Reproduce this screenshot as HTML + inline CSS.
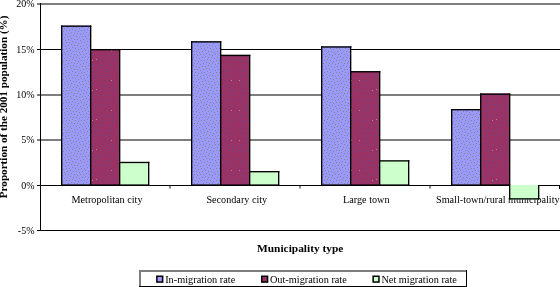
<!DOCTYPE html>
<html><head><meta charset="utf-8"><style>
html,body{margin:0;padding:0;background:#fff;}
svg{display:block;}
.t{font-family:"Liberation Serif",serif;fill:#000;}
.b{font-family:"Liberation Serif",serif;font-weight:bold;fill:#000;}
</style></head><body>
<svg width="560" height="287" viewBox="0 0 560 287">
<defs>
<pattern id="pin" x="0" y="0" width="30" height="30" patternUnits="userSpaceOnUse"><rect width="30" height="30" fill="#9999FF"/><path fill="#858590" d="M0 0h1v1h-1zM0 12h1v1h-1zM0 18h1v1h-1zM1 6h1v1h-1zM1 21h1v1h-1zM1 27h1v1h-1zM2 3h1v1h-1zM2 9h1v1h-1zM2 15h1v1h-1zM2 25h1v1h-1zM3 1h1v1h-1zM3 13h1v1h-1zM3 19h1v1h-1zM4 7h1v1h-1zM4 22h1v1h-1zM4 28h1v1h-1zM5 4h1v1h-1zM5 10h1v1h-1zM5 16h1v1h-1zM5 24h1v1h-1zM6 0h1v1h-1zM6 12h1v1h-1zM6 18h1v1h-1zM7 6h1v1h-1zM7 21h1v1h-1zM7 27h1v1h-1zM8 3h1v1h-1zM8 9h1v1h-1zM8 15h1v1h-1zM8 24h1v1h-1zM9 0h1v1h-1zM9 12h1v1h-1zM9 18h1v1h-1zM10 6h1v1h-1zM10 20h1v1h-1zM10 26h1v1h-1zM11 2h1v1h-1zM11 8h1v1h-1zM11 14h1v1h-1zM11 23h1v1h-1zM12 11h1v1h-1zM12 17h1v1h-1zM12 29h1v1h-1zM13 5h1v1h-1zM13 21h1v1h-1zM13 27h1v1h-1zM14 3h1v1h-1zM14 9h1v1h-1zM14 15h1v1h-1zM14 24h1v1h-1zM15 0h1v1h-1zM15 12h1v1h-1zM15 18h1v1h-1zM16 6h1v1h-1zM16 21h1v1h-1zM16 27h1v1h-1zM17 3h1v1h-1zM17 9h1v1h-1zM17 15h1v1h-1zM17 25h1v1h-1zM18 1h1v1h-1zM18 13h1v1h-1zM18 19h1v1h-1zM19 7h1v1h-1zM19 22h1v1h-1zM19 28h1v1h-1zM20 4h1v1h-1zM20 10h1v1h-1zM20 16h1v1h-1zM20 24h1v1h-1zM21 0h1v1h-1zM21 12h1v1h-1zM21 18h1v1h-1zM22 6h1v1h-1zM22 21h1v1h-1zM22 27h1v1h-1zM23 3h1v1h-1zM23 9h1v1h-1zM23 15h1v1h-1zM23 24h1v1h-1zM24 0h1v1h-1zM24 12h1v1h-1zM24 18h1v1h-1zM25 6h1v1h-1zM25 20h1v1h-1zM25 26h1v1h-1zM26 2h1v1h-1zM26 8h1v1h-1zM26 14h1v1h-1zM26 23h1v1h-1zM27 11h1v1h-1zM27 17h1v1h-1zM27 29h1v1h-1zM28 5h1v1h-1zM28 21h1v1h-1zM28 27h1v1h-1zM29 3h1v1h-1zM29 9h1v1h-1zM29 15h1v1h-1zM29 24h1v1h-1z"/></pattern>
<pattern id="pout" x="0" y="0" width="40" height="30" patternUnits="userSpaceOnUse"><rect width="40" height="30" fill="#993366"/><path fill="#5454a0" d="M0 0h1v1h-1zM1 10h1v1h-1zM1 25h1v1h-1zM2 15h1v1h-1zM3 5h1v1h-1zM3 21h1v1h-1zM4 1h1v1h-1zM5 11h1v1h-1zM5 26h1v1h-1zM6 16h1v1h-1zM7 20h1v1h-1zM8 0h1v1h-1zM9 10h1v1h-1zM9 25h1v1h-1zM10 15h1v1h-1zM11 5h1v1h-1zM13 10h1v1h-1zM13 24h1v1h-1zM14 14h1v1h-1zM15 4h1v1h-1zM15 19h1v1h-1zM17 9h1v1h-1zM18 15h1v1h-1zM19 5h1v1h-1zM20 0h1v1h-1zM21 25h1v1h-1zM22 15h1v1h-1zM23 5h1v1h-1zM25 11h1v1h-1zM25 26h1v1h-1zM26 16h1v1h-1zM27 20h1v1h-1zM28 0h1v1h-1zM29 10h1v1h-1zM29 25h1v1h-1zM30 15h1v1h-1zM31 5h1v1h-1zM32 0h1v1h-1zM33 24h1v1h-1zM36 29h1v1h-1zM37 9h1v1h-1z"/><path fill="#a88c9c" d="M12 0h1v1h-1zM16 29h1v1h-1zM31 20h1v1h-1zM39 20h1v1h-1z"/></pattern>
</defs>
<rect x="0" y="0" width="560" height="287" fill="#fff"/>
<rect x="37" y="3" width="523" height="2" fill="#7e7e7e"/>
<rect x="37" y="49" width="523" height="1" fill="#000"/>
<rect x="37" y="94" width="523" height="2" fill="#7e7e7e"/>
<rect x="37" y="139" width="523" height="2" fill="#7e7e7e"/>
<rect x="37" y="185" width="523" height="1" fill="#000"/>
<rect x="37" y="230" width="523" height="1" fill="#000"/>
<rect x="40" y="3" width="1" height="228" fill="#000"/>
<rect x="169.5" y="186" width="1" height="2.6" fill="#222"/>
<rect x="299.5" y="186" width="1" height="2.6" fill="#222"/>
<rect x="429.5" y="186" width="1" height="2.6" fill="#222"/>
<rect x="559" y="186" width="1" height="3" fill="#000"/>
<text x="34.5" y="7" text-anchor="end" class="t" font-size="10">20%</text>
<text x="34.5" y="53" text-anchor="end" class="t" font-size="10">15%</text>
<text x="34.5" y="98" text-anchor="end" class="t" font-size="10">10%</text>
<text x="34.5" y="143" text-anchor="end" class="t" font-size="10">5%</text>
<text x="34.5" y="188.8" text-anchor="end" class="t" font-size="10">0%</text>
<text x="34.5" y="234" text-anchor="end" class="t" font-size="10">-5%</text>
<text x="107" y="203" text-anchor="middle" class="t" font-size="10.2">Metropolitan city</text>
<text x="236.8" y="203" text-anchor="middle" class="t" font-size="10.2">Secondary city</text>
<text x="366.3" y="203" text-anchor="middle" class="t" font-size="10.2">Large town</text>
<text x="497.8" y="203" text-anchor="middle" class="t" font-size="10.2">Small-town/rural municipality</text>
<rect x="61" y="25.5" width="30" height="159.50" fill="url(#pin)"/>
<rect x="61" y="25.5" width="1.35" height="159.5" fill="#000"/>
<rect x="90" y="25.5" width="1.35" height="159.5" fill="#000"/>
<rect x="61" y="25.5" width="30.349999999999994" height="1.35" fill="#000"/>
<rect x="61" y="184.4" width="30.349999999999994" height="0.6" fill="#000"/>
<rect x="90" y="49" width="30" height="136.00" fill="url(#pout)"/>
<rect x="90" y="49.0" width="1.35" height="136.0" fill="#000"/>
<rect x="119" y="49.0" width="1.35" height="136.0" fill="#000"/>
<rect x="90" y="49.0" width="30.349999999999994" height="1.35" fill="#000"/>
<rect x="90" y="184.4" width="30.349999999999994" height="0.6" fill="#000"/>
<rect x="119" y="161.8" width="30" height="23.20" fill="#CCFFCC"/>
<rect x="119" y="161.8" width="1.35" height="23.19999999999999" fill="#000"/>
<rect x="148" y="161.8" width="1.35" height="23.19999999999999" fill="#000"/>
<rect x="119" y="161.8" width="30.349999999999994" height="1.35" fill="#000"/>
<rect x="119" y="184.4" width="30.349999999999994" height="0.6" fill="#000"/>
<rect x="191" y="41.2" width="30" height="143.80" fill="url(#pin)"/>
<rect x="191" y="41.2" width="1.35" height="143.8" fill="#000"/>
<rect x="220" y="41.2" width="1.35" height="143.8" fill="#000"/>
<rect x="191" y="41.2" width="30.349999999999994" height="1.35" fill="#000"/>
<rect x="191" y="184.4" width="30.349999999999994" height="0.6" fill="#000"/>
<rect x="220" y="54.8" width="30" height="130.20" fill="url(#pout)"/>
<rect x="220" y="54.8" width="1.35" height="130.2" fill="#000"/>
<rect x="249" y="54.8" width="1.35" height="130.2" fill="#000"/>
<rect x="220" y="54.8" width="30.349999999999994" height="1.35" fill="#000"/>
<rect x="220" y="184.4" width="30.349999999999994" height="0.6" fill="#000"/>
<rect x="249" y="171" width="30" height="14.00" fill="#CCFFCC"/>
<rect x="249" y="171.0" width="1.35" height="14.0" fill="#000"/>
<rect x="278" y="171.0" width="1.35" height="14.0" fill="#000"/>
<rect x="249" y="171.0" width="30.350000000000023" height="1.35" fill="#000"/>
<rect x="249" y="184.4" width="30.350000000000023" height="0.6" fill="#000"/>
<rect x="321" y="46.3" width="30" height="138.70" fill="url(#pin)"/>
<rect x="321" y="46.3" width="1.35" height="138.7" fill="#000"/>
<rect x="350" y="46.3" width="1.35" height="138.7" fill="#000"/>
<rect x="321" y="46.3" width="30.350000000000023" height="1.35" fill="#000"/>
<rect x="321" y="184.4" width="30.350000000000023" height="0.6" fill="#000"/>
<rect x="350" y="71.1" width="30" height="113.90" fill="url(#pout)"/>
<rect x="350" y="71.1" width="1.35" height="113.9" fill="#000"/>
<rect x="379" y="71.1" width="1.35" height="113.9" fill="#000"/>
<rect x="350" y="71.1" width="30.350000000000023" height="1.35" fill="#000"/>
<rect x="350" y="184.4" width="30.350000000000023" height="0.6" fill="#000"/>
<rect x="379" y="160.2" width="30" height="24.80" fill="#CCFFCC"/>
<rect x="379" y="160.2" width="1.35" height="24.80000000000001" fill="#000"/>
<rect x="408" y="160.2" width="1.35" height="24.80000000000001" fill="#000"/>
<rect x="379" y="160.2" width="30.350000000000023" height="1.35" fill="#000"/>
<rect x="379" y="184.4" width="30.350000000000023" height="0.6" fill="#000"/>
<rect x="451" y="109" width="30" height="76.00" fill="url(#pin)"/>
<rect x="451" y="109.0" width="1.35" height="76.0" fill="#000"/>
<rect x="480" y="109.0" width="1.35" height="76.0" fill="#000"/>
<rect x="451" y="109.0" width="30.350000000000023" height="1.35" fill="#000"/>
<rect x="451" y="184.4" width="30.350000000000023" height="0.6" fill="#000"/>
<rect x="480" y="93.5" width="30" height="91.50" fill="url(#pout)"/>
<rect x="480" y="93.5" width="1.35" height="91.5" fill="#000"/>
<rect x="509" y="93.5" width="1.35" height="91.5" fill="#000"/>
<rect x="480" y="93.5" width="30.350000000000023" height="1.35" fill="#000"/>
<rect x="480" y="184.4" width="30.350000000000023" height="0.6" fill="#000"/>
<rect x="509" y="185" width="30" height="14.55" fill="#CCFFCC"/>
<rect x="509" y="185.0" width="1.35" height="14.549999999999983" fill="#000"/>
<rect x="538" y="185.0" width="1.35" height="14.549999999999983" fill="#000"/>
<rect x="509" y="198.2" width="30.350000000000023" height="1.35" fill="#000"/>
<text x="300.2" y="252" text-anchor="middle" class="b" font-size="11.4">Municipality type</text>
<text transform="translate(7.3,106.9) rotate(-90)" text-anchor="middle" class="b" font-size="11.15">Proportion of the 2001 population (%)</text>
<rect x="139" y="270" width="328" height="17" fill="#000"/>
<rect x="139" y="270" width="327" height="16" fill="#7e7e7e"/>
<rect x="141" y="272" width="325" height="14" fill="#fff"/>
<rect x="156.1" y="275.5" width="7.3" height="7.3" fill="#000"/>
<rect x="157.6" y="277" width="4.3" height="4.3" fill="#9999FF"/>
<text x="165.2" y="283" class="t" font-size="10.3">In-migration rate</text>
<rect x="261" y="275.5" width="7.3" height="7.3" fill="#000"/>
<rect x="262.5" y="277" width="4.3" height="4.3" fill="#993366"/>
<text x="269.9" y="283" class="t" font-size="10.3">Out-migration rate</text>
<rect x="372.4" y="275.5" width="7.3" height="7.3" fill="#000"/>
<rect x="373.9" y="277" width="4.3" height="4.3" fill="#CCFFCC"/>
<text x="381.4" y="283" class="t" font-size="10.3">Net migration rate</text>
</svg>
</body></html>
